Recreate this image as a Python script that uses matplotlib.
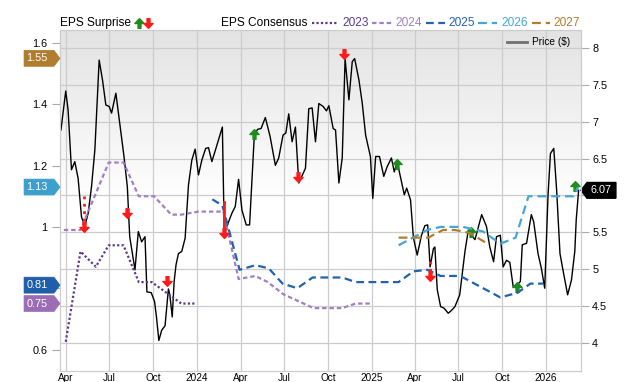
import numpy as np
import pandas as pd
import matplotlib
matplotlib.use("Agg")
import matplotlib.pyplot as plt
from matplotlib.lines import Line2D
from matplotlib.patches import Polygon
from matplotlib.path import Path
import matplotlib.transforms as mtransforms

plt.rcParams['font.family'] = ['Liberation Sans', 'DejaVu Sans']

# ---- data ----
price_dates = [
    "2023-03-22", "2023-04-01", "2023-04-06", "2023-04-13", "2023-04-20", "2023-04-27",
    "2023-05-04", "2023-05-11", "2023-05-18", "2023-05-25", "2023-06-01", "2023-06-10",
    "2023-06-17", "2023-06-24", "2023-07-01", "2023-07-06", "2023-07-15", "2023-07-23",
    "2023-08-01", "2023-08-08", "2023-08-13", "2023-08-24", "2023-08-31", "2023-09-07",
    "2023-09-14", "2023-09-18", "2023-09-27", "2023-10-04", "2023-10-08", "2023-10-13",
    "2023-10-19", "2023-10-26", "2023-10-29", "2023-11-02", "2023-11-05", "2023-11-10",
    "2023-11-14", "2023-11-18", "2023-11-23", "2023-11-30", "2023-12-07", "2023-12-14",
    "2023-12-21", "2023-12-28", "2024-01-04", "2024-01-11", "2024-01-19", "2024-01-25",
    "2024-02-01", "2024-02-10", "2024-02-23", "2024-02-27", "2024-03-07", "2024-03-14",
    "2024-03-21", "2024-03-28", "2024-04-04", "2024-04-13", "2024-04-20", "2024-04-30",
    "2024-05-07", "2024-05-14", "2024-05-23", "2024-06-02", "2024-06-13", "2024-06-20",
    "2024-06-29", "2024-07-05", "2024-07-11", "2024-07-18", "2024-07-25", "2024-08-01",
    "2024-08-15", "2024-08-22", "2024-08-29", "2024-09-05", "2024-09-12", "2024-09-21",
    "2024-09-28", "2024-10-03", "2024-10-12", "2024-10-17", "2024-10-24", "2024-10-31",
    "2024-11-06", "2024-11-14", "2024-11-21", "2024-11-26", "2024-12-05", "2024-12-12",
    "2024-12-19", "2024-12-29", "2025-01-03", "2025-01-09", "2025-01-17", "2025-01-26",
    "2025-02-02", "2025-02-11", "2025-02-17", "2025-02-23", "2025-03-02", "2025-03-10",
    "2025-03-15", "2025-03-23", "2025-03-29", "2025-04-06", "2025-04-15", "2025-04-22",
    "2025-04-28", "2025-05-03", "2025-05-10", "2025-05-13", "2025-05-18", "2025-05-25",
    "2025-06-01", "2025-06-10", "2025-06-17", "2025-06-24", "2025-07-04", "2025-07-15",
    "2025-07-22", "2025-07-29", "2025-08-05", "2025-08-19", "2025-08-29", "2025-09-05",
    "2025-09-13", "2025-09-19", "2025-09-27", "2025-10-03", "2025-10-10", "2025-10-17",
    "2025-10-24", "2025-10-31", "2025-11-08", "2025-11-12", "2025-11-21", "2025-12-01",
    "2025-12-06", "2025-12-15", "2025-12-22", "2025-12-29", "2026-01-05", "2026-01-10",
    "2026-01-17", "2026-01-23", "2026-01-30", "2026-02-06", "2026-02-15", "2026-02-23",
    "2026-03-02", "2026-03-05", "2026-03-10",
]
price_vals = [
    6.89, 7.42, 7.16, 6.35, 6.46, 6.23,
    5.71, 5.58, 5.76, 6.12, 6.62, 7.84,
    7.57, 7.23, 7.21, 7.12, 7.39, 6.98,
    6.53, 6.12, 5.44, 4.99, 5.51, 5.37,
    5.44, 4.69, 4.68, 4.56, 4.35, 4.03,
    4.17, 4.23, 4.44, 4.73, 4.65, 4.35,
    4.83, 5.06, 5.21, 5.24, 5.42, 6.14,
    6.48, 6.63, 6.28, 6.48, 6.64, 6.65,
    6.46, 6.65, 6.93, 5.49, 5.64, 5.76,
    5.85, 6.22, 5.80, 5.60, 5.60, 6.83,
    6.90, 6.91, 7.06, 6.80, 6.41, 6.51,
    6.82, 6.85, 7.11, 6.73, 6.93, 6.17,
    6.37, 7.18, 7.19, 6.73, 7.25, 7.21,
    7.15, 7.22, 6.91, 6.89, 6.17, 6.51,
    7.86, 7.30, 7.82, 7.86, 7.57, 7.25,
    6.82, 6.53, 5.96, 6.53, 6.53, 6.26,
    6.39, 6.51, 6.32, 6.46, 6.25, 6.01,
    6.10, 5.94, 5.43, 5.19, 5.46, 5.59,
    5.60, 5.03, 5.28, 5.30, 4.72, 4.49,
    4.47, 4.40, 4.44, 4.49, 4.65, 5.24,
    5.53, 5.46, 5.40, 5.74, 5.58, 5.30,
    5.10, 5.44, 5.46, 5.03, 5.12, 5.09,
    4.76, 4.78, 4.83, 5.33, 5.35, 5.74,
    5.64, 5.21, 5.01, 4.74, 6.01, 6.57,
    6.64, 6.07, 5.21, 4.96, 4.65, 4.85,
    5.24, 5.67, 6.07,
]

eps23_dates = ["2023-04-01", "2023-05-02", "2023-06-03", "2023-06-30", "2023-07-31",
               "2023-09-01", "2023-09-28", "2023-11-29", "2023-12-30"]
eps23_vals = [0.625, 0.92, 0.87, 0.94, 0.94, 0.82, 0.82, 0.75, 0.75]

eps24_dates = ["2023-03-28", "2023-05-02", "2023-06-30", "2023-07-31", "2023-09-01",
               "2023-10-03", "2023-11-08", "2023-11-29", "2024-01-04", "2024-02-25",
               "2024-03-28", "2024-05-02", "2024-05-28", "2024-06-30", "2024-09-01",
               "2024-10-31", "2024-11-28", "2024-12-29"]
eps24_vals = [0.99, 0.99, 1.21, 1.21, 1.10, 1.10, 1.04, 1.04, 1.05, 1.05,
              0.83, 0.84, 0.82, 0.78, 0.735, 0.735, 0.75, 0.75]

eps25_dates = ["2024-02-02", "2024-02-23", "2024-03-30", "2024-05-02", "2024-05-30",
               "2024-06-28", "2024-07-29", "2024-08-30", "2024-10-31", "2024-11-28",
               "2025-02-26", "2025-03-29", "2025-04-27", "2025-05-25", "2025-07-05",
               "2025-08-16", "2025-09-27", "2025-11-02", "2025-11-29", "2025-12-26"]
eps25_vals = [1.09, 1.07, 0.86, 0.875, 0.865, 0.815, 0.80, 0.835, 0.835, 0.82,
              0.82, 0.855, 0.86, 0.84, 0.84, 0.805, 0.77, 0.785, 0.815, 0.815]

eps26_dates = ["2025-02-26", "2025-04-27", "2025-05-25", "2025-07-11", "2025-08-22",
               "2025-09-27", "2025-10-29", "2025-11-25", "2026-02-27", "2026-03-09"]
eps26_vals = [0.94, 0.99, 1.0, 1.0, 0.985, 0.945, 0.965, 1.10, 1.10, 1.13]

eps27_dates = ["2025-02-26", "2025-04-29", "2025-05-30", "2025-06-24", "2025-07-25", "2025-08-26"]
eps27_vals = [0.965, 0.965, 0.99, 0.99, 0.98, 0.95]

# surprise arrows sitting on the price line
beat_dates = ["2024-04-29", "2025-02-22", "2025-07-27", "2025-10-31", "2026-03-03"]
beat_prices = [6.84, 6.43, 5.50, 4.76, 6.13]
miss_dates = ["2023-08-08", "2023-10-31", "2024-07-31", "2024-11-04"]
miss_prices = [5.76, 4.84, 6.25, 7.92]

# surprise bars on the EPS scale (from, to, style)
bar_dates = ["2023-05-09", "2024-02-26", "2025-05-03"]
bar_from = [1.10, 1.08, 0.89]
bar_to = [1.00, 0.98, 0.84]
bar_style = [":", "-", ":"]

tick_dates = ["2023-04-01", "2023-07-01", "2023-10-01", "2024-01-01", "2024-04-01",
              "2024-07-01", "2024-10-01", "2025-01-01", "2025-04-01", "2025-07-01",
              "2025-10-01", "2026-01-01"]
tick_labels = ["Apr", "Jul", "Oct", "2024", "Apr", "Jul", "Oct", "2025", "Apr", "Jul", "Oct", "2026"]

# labels "6" and "0.8" sit under the value tags in the original, so they stay blank
price_ticks = [4, 4.5, 5, 5.5, 6, 6.5, 7, 7.5, 8]
price_labels = ["4", "4.5", "5", "5.5", "", "6.5", "7", "7.5", "8"]
eps_ticks = [0.6, 0.8, 1.0, 1.2, 1.4, 1.6]
eps_labels = ["0.6", "", "1", "1.2", "1.4", "1.6"]

series_names = ["2023", "2024", "2025", "2026", "2027"]
series_colors = ["#5b3a8e", "#a27fc4", "#2262b0", "#45a6d6", "#b07e2e"]
series_styles = [(0, (1, 1)), (0, (2, 1.3)), (0, (3.5, 2)), (0, (4, 2.2)), (0, (4, 2.2))]

tags = [(1.55, "#b07d2e"), (1.13, "#3d9fcc"), (0.81, "#1f5ea8"), (0.75, "#9a6db5")]
last_price = 6.07

GREEN = "#1e8c1e"
RED = "#ff1a1a"
GRID = "#cccccc"

up_arrow = Path([(-0.3, -1), (0.3, -1), (0.3, 0), (0.95, 0), (0, 1), (-0.95, 0), (-0.3, 0), (-0.3, -1)],
                [Path.MOVETO] + [Path.LINETO] * 6 + [Path.CLOSEPOLY])
down_arrow = Path([(x, -y) for x, y in up_arrow.vertices], up_arrow.codes)

# ---- figure ----
W, H = 640, 382
fig = plt.figure(figsize=(6.4, 3.82), dpi=100)
ax = fig.add_axes([60 / W, 1 - 371 / H, 521 / W, 341 / H])   # price, right side
ax_eps = ax.twinx()                                          # EPS, left side
ax.yaxis.tick_right()
ax_eps.yaxis.tick_left()

# grey-to-white background
grad = np.ones((200, 1, 3))
t = np.linspace(0, 1, 200)[:, None]
shade = np.clip((t - 0.5) / 0.5, 0, 1) * 0.11
grad[:, 0, :] = 1 - shade
ax.imshow(grad, extent=[0, 1, 0, 1], transform=ax.transAxes, origin="lower",
          aspect="auto", zorder=0, interpolation="bilinear")

ax.plot(pd.to_datetime(price_dates), price_vals, color="black", lw=1.0, zorder=3)
ax.plot(pd.to_datetime(beat_dates), beat_prices, ls="none", marker=up_arrow, ms=7,
        color=GREEN, zorder=6)
ax.plot(pd.to_datetime(miss_dates), miss_prices, ls="none", marker=down_arrow, ms=7,
        color=RED, zorder=6)

ax.set_xlim(pd.Timestamp("2023-03-20"), pd.Timestamp("2026-03-15"))
ax.set_ylim(3.615, 8.249)
ax.set_yticks(price_ticks)
ax.set_yticklabels(price_labels)
ax.set_xticks(pd.to_datetime(tick_dates))
ax.set_xticklabels(tick_labels)
ax.grid(True, color=GRID, lw=0.9, zorder=1)
ax.set_axisbelow(True)
ax.tick_params(axis="y", length=6, color="#aaaaaa", labelsize=7.8, pad=2)
ax.tick_params(axis="x", length=0, labelsize=7.2, pad=1.5)
for s in ax.spines.values():
    s.set_color(GRID)

# EPS lines
all_dates = [eps23_dates, eps24_dates, eps25_dates, eps26_dates, eps27_dates]
all_vals = [eps23_vals, eps24_vals, eps25_vals, eps26_vals, eps27_vals]
for d, v, c, st in zip(all_dates, all_vals, series_colors, series_styles):
    ax_eps.plot(pd.to_datetime(d), v, color=c, lw=1.6, ls=st, zorder=3)

for d, a, b, st in zip(pd.to_datetime(bar_dates), bar_from, bar_to, bar_style):
    ax_eps.plot([d, d], [a, b], color=RED, lw=2, ls=st, zorder=5)
    ax_eps.plot([d], [b], marker=down_arrow, ms=7, color=RED, zorder=6)

ax_eps.set_ylim(0.5299, 1.6424)
ax_eps.set_yticks(eps_ticks)
ax_eps.set_yticklabels(eps_labels)
ax_eps.tick_params(axis="y", length=6, color="#aaaaaa", labelsize=7.8, pad=3)
for s in ax_eps.spines.values():
    s.set_color(GRID)

# value tags on the left (EPS) and right (price)
tr_l = mtransforms.blended_transform_factory(ax_eps.transAxes, ax_eps.transData)
hh = 0.026
for val, col in tags:
    poly = Polygon([(-0.069, val - hh), (-0.0115, val - hh), (0, val),
                    (-0.0115, val + hh), (-0.069, val + hh)],
                   closed=True, transform=tr_l, facecolor=col, edgecolor=col,
                   lw=0.5, clip_on=False, zorder=20)
    ax_eps.add_patch(poly)
    ax_eps.text(-0.064, val, f"{val:.2f}", transform=tr_l, color="white",
                fontsize=7.8, ha="left", va="center", clip_on=False, zorder=21)

tr_r = mtransforms.blended_transform_factory(ax.transAxes, ax.transData)
hp = 0.107
poly = Polygon([(1.0, last_price), (1.0115, last_price - hp), (1.067, last_price - hp),
                (1.067, last_price + hp), (1.0115, last_price + hp)],
               closed=True, transform=tr_r, facecolor="black", edgecolor="black",
               clip_on=False, zorder=20)
ax.add_patch(poly)
ax.text(1.0173, last_price, f"{last_price:.2f}", transform=tr_r, color="white",
        fontsize=7.8, ha="left", va="center", clip_on=False, zorder=21)

# header legend
def fx(px):
    return px / W


def fy(py):
    return 1 - py / H


ly = fy(23)
fig.text(fx(60), ly, "EPS Surprise", fontsize=8.6, va="center", ha="left")
fig.add_artist(Line2D([fx(139)], [ly], marker=up_arrow, ms=7, color=GREEN, ls="none",
                      transform=fig.transFigure))
fig.add_artist(Line2D([fx(148)], [ly], marker=down_arrow, ms=7, color=RED, ls="none",
                      transform=fig.transFigure))
fig.text(fx(221), ly, "EPS Consensus", fontsize=8.6, va="center", ha="left")

leg_x = [(312, 337, 342), (372, 393, 395), (426, 445, 448), (478, 497, 501), (532, 550, 553)]
for (x0, x1, xt), name, c, st in zip(leg_x, series_names, series_colors, series_styles):
    fig.add_artist(Line2D([fx(x0), fx(x1)], [ly, ly], color=c, lw=1.6, ls=st,
                          transform=fig.transFigure))
    fig.text(fx(xt), ly, name, color=c, fontsize=8.6, va="center", ha="left")

py = fy(42)
fig.add_artist(Line2D([fx(507), fx(527)], [py, py], color="#707070", lw=2,
                      transform=fig.transFigure))
fig.text(fx(532), py, "Price ($)", fontsize=7.3, va="center", ha="left")

fig.savefig("out.png", dpi=100)
